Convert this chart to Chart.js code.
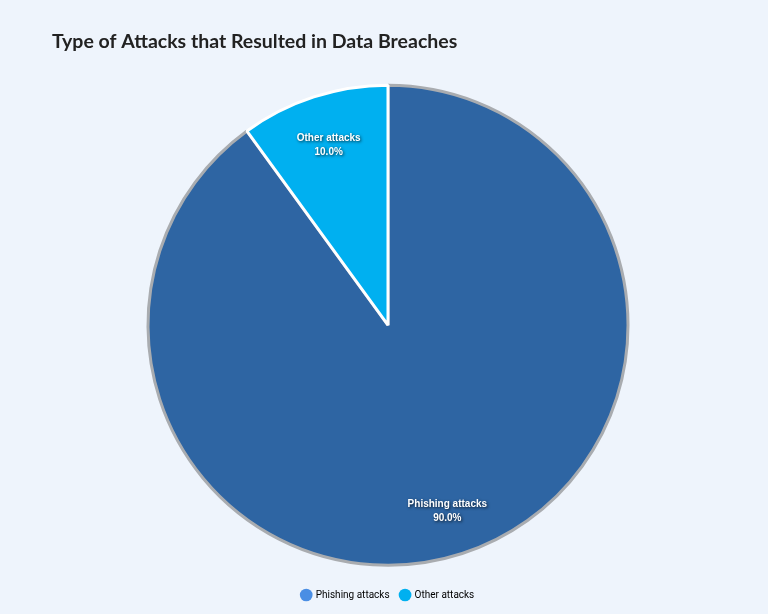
<!DOCTYPE html>
<html>
<head>
<meta charset="utf-8">
<script src="https://cdn.jsdelivr.net/npm/chart.js@4"></script>
<style>
  html, body { margin: 0; padding: 0; background: #eef4fc; }
  #wrap { position: relative; width: 768px; height: 614px; }
</style>
</head>
<body>
<div id="wrap"><canvas id="c" width="768" height="614"></canvas></div>
<script>
const categories = ['Phishing attacks', 'Other attacks'];
const values = [90, 10];
const sliceColors = ['#2e65a3', '#00b0f0'];
const legendColors = ['#4a8ee4', '#00b0f0'];
const borderColors = ['#a9acb0', '#ffffff'];
const titleText = 'Type of Attacks that Resulted in Data Breaches';

const sliceLabels = {
  id: 'sliceLabels',
  afterDatasetsDraw(chart) {
    const ctx = chart.ctx;
    const meta = chart.getDatasetMeta(0);
    const total = values.reduce((a, b) => a + b, 0);
    ctx.save();
    ctx.font = 'bold 10px "Liberation Sans", Arial, sans-serif';
    ctx.textAlign = 'center';
    ctx.textBaseline = 'middle';
    ctx.fillStyle = '#ffffff';
    ctx.shadowColor = 'rgba(0,0,0,0.75)';
    ctx.shadowBlur = 3;
    ctx.shadowOffsetX = 1;
    ctx.shadowOffsetY = 1;
    meta.data.forEach((arc, i) => {
      const p = arc.getProps(['x', 'y', 'startAngle', 'endAngle', 'outerRadius'], true);
      const mid = (p.startAngle + p.endAngle) / 2;
      const r = p.outerRadius * 0.8;
      const x = p.x + Math.cos(mid) * r;
      const y = p.y + Math.sin(mid) * r;
      const pct = (values[i] / total * 100).toFixed(1) + '%';
      ctx.fillText(categories[i], x, y - 4);
      ctx.fillText(pct, x, y + 10);
    });
    ctx.restore();
  }
};

new Chart(document.getElementById('c'), {
  type: 'pie',
  data: {
    labels: categories,
    datasets: [{
      data: values,
      backgroundColor: sliceColors,
      borderColor: borderColors,
      borderWidth: 3,
      radius: 240
    }]
  },
  options: {
    responsive: false,
    animation: false,
    layout: { padding: { left: 52, right: 44, top: 0, bottom: 4 } },
    plugins: {
      title: {
        display: true,
        text: titleText,
        align: 'start',
        color: '#222222',
        font: { family: 'Lato, "Open Sans", sans-serif', size: 19.5, weight: 'bold' },
        padding: { top: 30, bottom: 18 }
      },
      legend: {
        position: 'bottom',
        labels: {
          usePointStyle: true,
          pointStyle: 'circle',
          boxWidth: 9,
          boxHeight: 9,
          padding: 11,
          color: '#555555',
          font: { family: 'Roboto, "Liberation Sans", Arial, sans-serif', size: 10 },
          generateLabels(chart) {
            return categories.map((c, i) => ({
              text: c,
              fillStyle: legendColors[i],
              strokeStyle: legendColors[i],
              lineWidth: 0,
              pointStyle: 'circle',
              hidden: false,
              index: i
            }));
          }
        }
      },
      tooltip: { enabled: false }
    }
  },
  plugins: [sliceLabels]
});
</script>
</body>
</html>
